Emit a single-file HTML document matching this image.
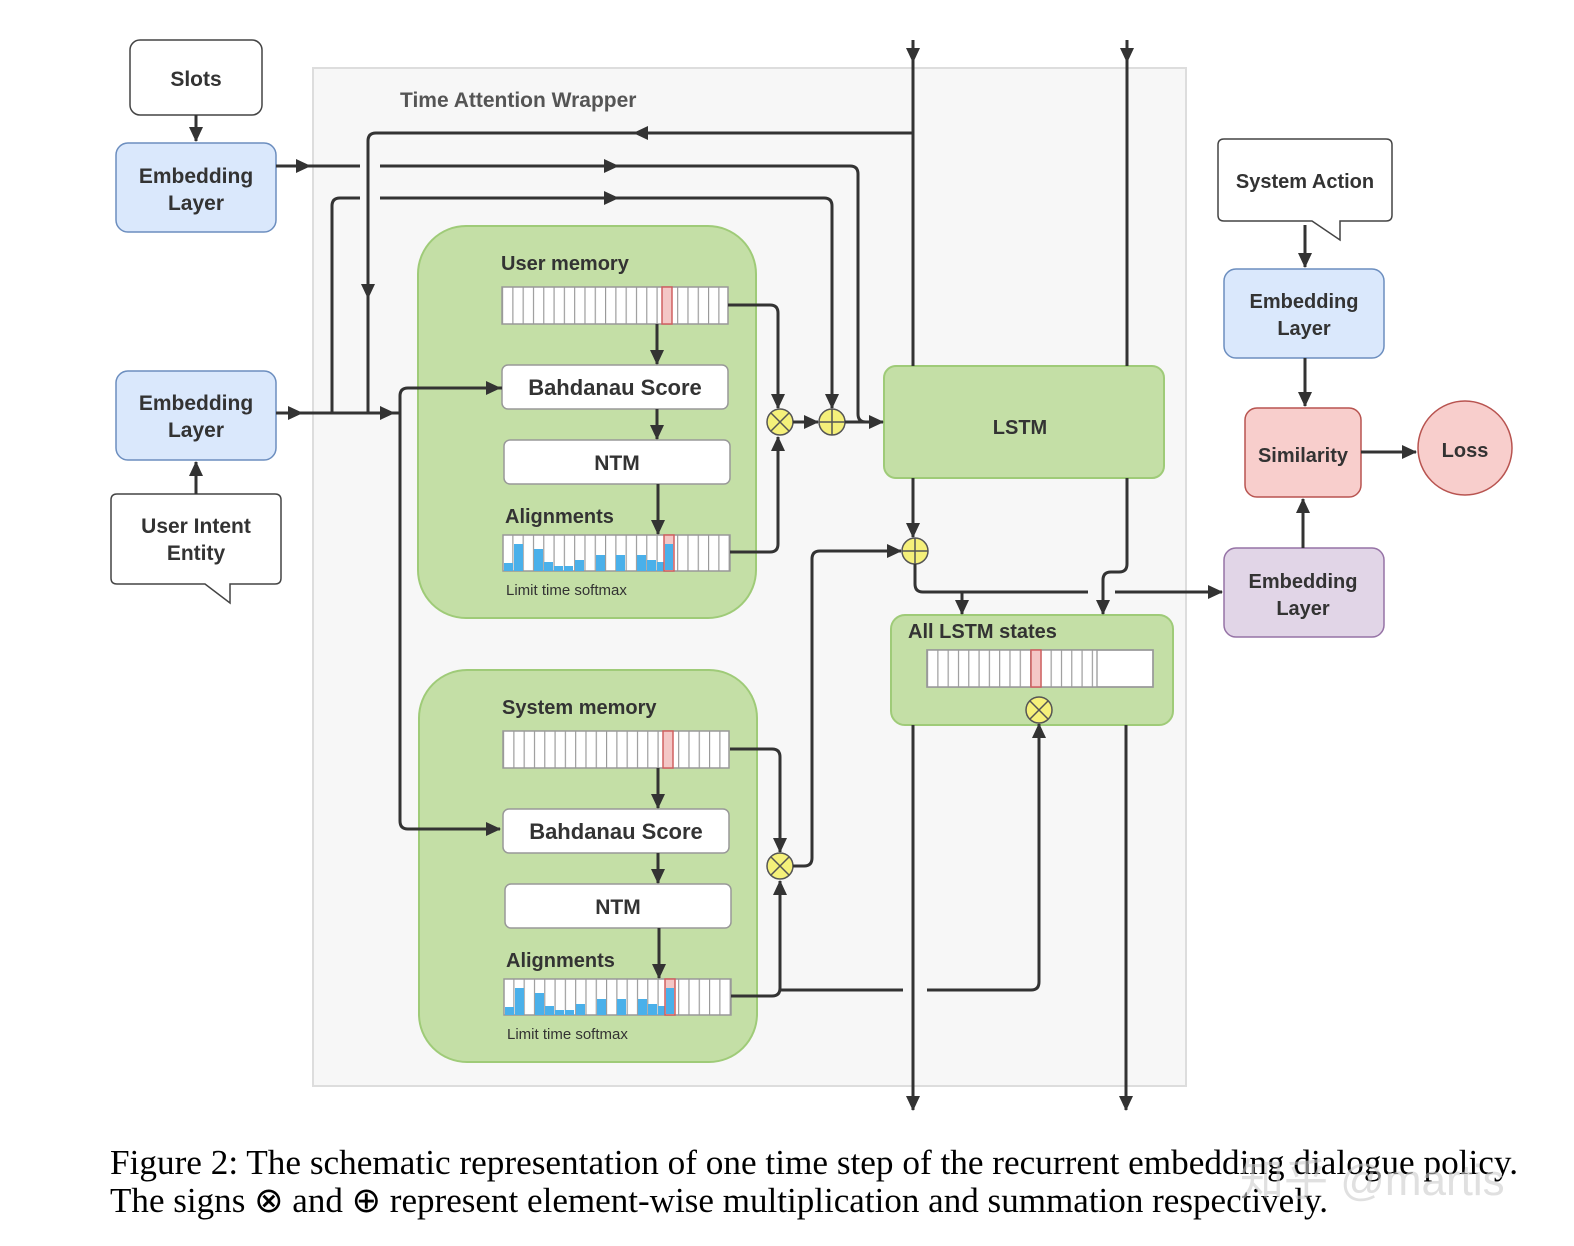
<!DOCTYPE html>
<html><head><meta charset="utf-8"><style>
html,body{margin:0;padding:0;background:#fff;}
svg{display:block;}
.t{font-family:"Liberation Sans",sans-serif;font-weight:bold;fill:#333;}
.c{font-family:"Liberation Serif",serif;fill:#000;font-size:35px;}
</style></head><body>
<svg width="1574" height="1246" viewBox="0 0 1574 1246" xmlns="http://www.w3.org/2000/svg">
<defs>
<marker id="a" markerUnits="userSpaceOnUse" markerWidth="16" markerHeight="16" refX="14" refY="8" orient="auto"><path d="M0,1 L15,8 L0,15 z" fill="#333"/></marker>
<marker id="m" markerUnits="userSpaceOnUse" markerWidth="16" markerHeight="16" refX="8" refY="8" orient="auto"><path d="M0,1 L15,8 L0,15 z" fill="#333"/></marker>
<pattern id="cells" x="502" y="0" width="10.3" height="10" patternUnits="userSpaceOnUse"><rect width="10.3" height="10" fill="#fff"/><line x1="0.5" y1="0" x2="0.5" y2="10" stroke="#999" stroke-width="1.3"/></pattern>
<pattern id="cells2" x="927" y="0" width="10.3" height="10" patternUnits="userSpaceOnUse"><rect width="10.3" height="10" fill="#fff"/><line x1="0.5" y1="0" x2="0.5" y2="10" stroke="#999" stroke-width="1.3"/></pattern>
</defs>

<rect x="313" y="68" width="873" height="1018" fill="#f7f7f7" stroke="#ddd" stroke-width="2"/>
<text x="400" y="107" class="t" font-size="21" style="fill:#555">Time Attention Wrapper</text>

<rect x="130" y="40" width="132" height="75" rx="10" fill="#fff" stroke="#444" stroke-width="1.5"/>
<text x="196" y="86" class="t" font-size="21" text-anchor="middle">Slots</text>
<rect x="116" y="143" width="160" height="89" rx="12" fill="#dae8fc" stroke="#6c8ebf" stroke-width="1.5"/>
<text x="196" y="183" class="t" font-size="21" text-anchor="middle">Embedding</text>
<text x="196" y="210" class="t" font-size="21" text-anchor="middle">Layer</text>
<rect x="116" y="371" width="160" height="89" rx="12" fill="#dae8fc" stroke="#6c8ebf" stroke-width="1.5"/>
<text x="196" y="410" class="t" font-size="21" text-anchor="middle">Embedding</text>
<text x="196" y="437" class="t" font-size="21" text-anchor="middle">Layer</text>
<path d="M117,494 H275 Q281,494 281,500 V578 Q281,584 275,584 H230 V603 L205,584 H117 Q111,584 111,578 V500 Q111,494 117,494 Z" fill="#fff" stroke="#444" stroke-width="1.5"/>
<text x="196" y="533" class="t" font-size="21" text-anchor="middle">User Intent</text>
<text x="196" y="560" class="t" font-size="21" text-anchor="middle">Entity</text>

<g id="g1">
<rect x="418" y="226" width="338" height="392" rx="48" fill="#c4dfa6" stroke="#9fcb78" stroke-width="2"/>
<rect x="502" y="287" width="226" height="37" fill="url(#cells)" stroke="#999" stroke-width="1.5"/>
<rect x="662" y="287" width="10" height="37" fill="#f4c7c6" stroke="#d06060" stroke-width="1.5"/>
<rect x="502" y="365" width="226" height="44" rx="6" fill="#fff" stroke="#999" stroke-width="1.5"/>
<text x="615" y="395" class="t" font-size="22" text-anchor="middle">Bahdanau Score</text>
<rect x="504" y="440" width="226" height="44" rx="6" fill="#fff" stroke="#999" stroke-width="1.5"/>
<text x="617" y="470" class="t" font-size="21" text-anchor="middle">NTM</text>
<text x="505" y="523" class="t" font-size="20">Alignments</text>
<rect x="503" y="535" width="227" height="36" fill="url(#cells)" stroke="#999" stroke-width="1.5"/>
<g fill="#4ab0ea">
<rect x="504" y="563" width="9" height="8"/><rect x="514" y="544" width="9" height="27"/>
<rect x="534" y="549" width="9" height="22"/><rect x="544" y="562" width="9" height="9"/>
<rect x="554" y="566" width="9" height="5"/><rect x="564" y="566" width="9" height="5"/>
<rect x="575" y="560" width="9" height="11"/><rect x="596" y="555" width="9" height="16"/>
<rect x="616" y="555" width="9" height="16"/><rect x="637" y="555" width="9" height="16"/>
<rect x="647" y="560" width="9" height="11"/><rect x="657" y="562" width="8" height="9"/>
</g>
<rect x="664" y="535" width="10" height="36" fill="#f4c7c6" stroke="#d06060" stroke-width="1.5"/>
<rect x="665" y="544" width="8" height="26" fill="#4ab0ea"/>
<text x="506" y="595" font-family="Liberation Sans,sans-serif" font-size="15" fill="#333">Limit time softmax</text>
</g>
<use href="#g1" x="1" y="444"/>
<text x="501" y="270" class="t" font-size="20">User memory</text>
<text x="502" y="714" class="t" font-size="20">System memory</text>

<g stroke="#555" stroke-width="1.5" fill="#f5f07a">
<circle cx="780" cy="422" r="13"/><circle cx="832" cy="422" r="13"/>
<circle cx="915" cy="551" r="13"/><circle cx="780" cy="866" r="13"/>
</g>
<g stroke="#555" stroke-width="1.5">
<path d="M771,413 L789,431 M789,413 L771,431"/><path d="M771,857 L789,875 M789,857 L771,875"/>
<path d="M819,422 H845 M832,409 V435"/><path d="M902,551 H928 M915,538 V564"/>
</g>

<rect x="884" y="366" width="280" height="112" rx="12" fill="#c4dfa6" stroke="#9fcb78" stroke-width="2"/>
<text x="1020" y="434" class="t" font-size="20" text-anchor="middle">LSTM</text>
<rect x="891" y="615" width="282" height="110" rx="14" fill="#c4dfa6" stroke="#9fcb78" stroke-width="2"/>
<text x="908" y="638" class="t" font-size="20">All LSTM states</text>
<rect x="927" y="650" width="226" height="37" fill="#fff" stroke="#999" stroke-width="1.5"/>
<rect x="927" y="650" width="170" height="37" fill="url(#cells2)"/>
<line x1="1097" y1="650" x2="1097" y2="687" stroke="#999" stroke-width="1.3"/>
<rect x="927" y="650" width="226" height="37" fill="none" stroke="#999" stroke-width="1.5"/>
<rect x="1031" y="650" width="10" height="37" fill="#f4c7c6" stroke="#d06060" stroke-width="1.5"/>
<circle cx="1039" cy="710" r="13" fill="#f5f07a" stroke="#555" stroke-width="1.5"/>
<path d="M1030,701 L1048,719 M1048,701 L1030,719" stroke="#555" stroke-width="1.5"/>

<path d="M1224,139 H1386 Q1392,139 1392,145 V215 Q1392,221 1386,221 H1340 V240 L1312,221 H1224 Q1218,221 1218,215 V145 Q1218,139 1224,139 Z" fill="#fff" stroke="#444" stroke-width="1.5"/>
<text x="1305" y="188" class="t" font-size="20" text-anchor="middle">System Action</text>
<rect x="1224" y="269" width="160" height="89" rx="12" fill="#dae8fc" stroke="#6c8ebf" stroke-width="1.5"/>
<text x="1304" y="308" class="t" font-size="20" text-anchor="middle">Embedding</text>
<text x="1304" y="335" class="t" font-size="20" text-anchor="middle">Layer</text>
<rect x="1245" y="408" width="116" height="89" rx="12" fill="#f8cecc" stroke="#b85450" stroke-width="1.5"/>
<text x="1303" y="462" class="t" font-size="20" text-anchor="middle">Similarity</text>
<circle cx="1465" cy="448" r="47" fill="#f8cecc" stroke="#b85450" stroke-width="1.5"/>
<text x="1465" y="457" class="t" font-size="20" text-anchor="middle">Loss</text>
<rect x="1224" y="548" width="160" height="89" rx="12" fill="#e1d5e7" stroke="#9673a6" stroke-width="1.5"/>
<text x="1303" y="588" class="t" font-size="20" text-anchor="middle">Embedding</text>
<text x="1303" y="615" class="t" font-size="20" text-anchor="middle">Layer</text>

<g fill="none" stroke="#333" stroke-width="3" stroke-linejoin="round">
<path d="M196,115 V141" marker-end="url(#a)"/>
<path d="M196,494 V462" marker-end="url(#a)"/>
<path d="M276,166 H310" marker-end="url(#a)"/>
<path d="M305,166 H360"/>
<path d="M380,166 H612" marker-end="url(#m)"/>
<path d="M600,166 H850 Q858,166 858,174 V414 Q858,422 866,422"/>
<path d="M276,413 H302" marker-end="url(#a)"/>
<path d="M300,413 H388" marker-end="url(#m)"/>
<path d="M380,413 H400"/>
<path d="M332,413 V206 Q332,198 340,198 H360"/>
<path d="M380,198 H612" marker-end="url(#m)"/>
<path d="M600,198 H824 Q832,198 832,206 V408" marker-end="url(#a)"/>
<path d="M913,40 V366"/><path d="M913,40 V62" marker-end="url(#a)"/>
<path d="M1127,40 V366"/><path d="M1127,40 V62" marker-end="url(#a)"/>
<path d="M913,133 H640" marker-end="url(#m)"/>
<path d="M650,133 H376 Q368,133 368,141 V413"/>
<path d="M368,270 V292" marker-end="url(#m)"/>
<path d="M502,388 H408 Q400,388 400,396 V821 Q400,829 408,829 H500" marker-end="url(#a)"/>
<path d="M408,388 H500" marker-end="url(#a)"/>
<path d="M728,305 H770 Q778,305 778,313 V408" marker-end="url(#a)"/>
<path d="M730,552 H770 Q778,552 778,544 V437" marker-end="url(#a)"/>
<path d="M793,422 H818" marker-end="url(#a)"/>
<path d="M845,422 H883" marker-end="url(#a)"/>
<path d="M657,324 V364" marker-end="url(#a)"/>
<path d="M657,409 V439" marker-end="url(#a)"/>
<path d="M658,484 V534" marker-end="url(#a)"/>
<path d="M658,768 V808" marker-end="url(#a)"/>
<path d="M658,853 V883" marker-end="url(#a)"/>
<path d="M659,928 V978" marker-end="url(#a)"/>
<path d="M913,478 V537" marker-end="url(#a)"/>
<path d="M915,564 V584 Q915,592 923,592 H1088"/>
<path d="M962,592 V614" marker-end="url(#a)"/>
<path d="M1127,478 V564 Q1127,572 1119,572 H1111 Q1103,572 1103,580 V614" marker-end="url(#a)"/>
<path d="M1115,592 H1222" marker-end="url(#a)"/>
<path d="M793,866 H804 Q812,866 812,858 V559 Q812,551 820,551 H901" marker-end="url(#a)"/>
<path d="M730,749 H772 Q780,749 780,757 V852" marker-end="url(#a)"/>
<path d="M731,996 H772 Q780,996 780,988 V881" marker-end="url(#a)"/>
<path d="M780,990 H903"/>
<path d="M927,990 H1031 Q1039,990 1039,982 V724" marker-end="url(#a)"/>
<path d="M913,725 V1110" marker-end="url(#a)"/>
<path d="M1126,725 V1110" marker-end="url(#a)"/>
<path d="M1305,225 V267" marker-end="url(#a)"/>
<path d="M1305,358 V406" marker-end="url(#a)"/>
<path d="M1361,452 H1416" marker-end="url(#a)"/>
<path d="M1303,548 V499" marker-end="url(#a)"/>
</g>

<text x="110" y="1174" class="c" textLength="1408" lengthAdjust="spacingAndGlyphs">Figure 2: The schematic representation of one time step of the recurrent embedding dialogue policy.</text>
<text x="110" y="1212" class="c" textLength="1218" lengthAdjust="spacingAndGlyphs">The signs ⊗ and ⊕ represent element-wise multiplication and summation respectively.</text>
<text x="1240" y="1195" font-family="Liberation Sans,Noto Sans CJK SC,sans-serif" font-size="44" fill="#ccc" fill-opacity="0.6">知乎 @martis</text>
</svg>
</body></html>
